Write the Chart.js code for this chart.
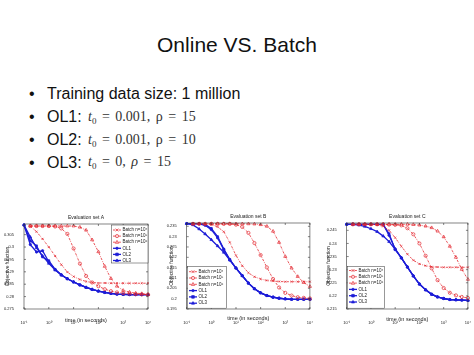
<!DOCTYPE html>
<html><head><meta charset="utf-8">
<script src="https://cdn.jsdelivr.net/npm/chart.js@4.4.1/dist/chart.umd.min.js"></script>
<style>
html,body{margin:0;padding:0;background:#fff;}
body{width:474px;height:355px;position:relative;overflow:hidden;font-family:"Liberation Sans",Arial,sans-serif;color:#111;}
.t{position:absolute;left:0;top:34px;width:474px;text-align:center;font-size:21px;line-height:21px;white-space:nowrap;}
.l{position:absolute;left:47px;font-size:16px;line-height:16px;white-space:nowrap;}
.bl{position:absolute;left:29px;font-size:16px;line-height:16px;}
.m{position:absolute;left:88px;font-family:"Liberation Serif","Times New Roman",serif;font-size:14px;line-height:14px;word-spacing:2px;color:#333;white-space:nowrap;}
.m sub{font-size:9px;vertical-align:-3px;line-height:0;}
canvas{position:absolute;}
</style></head>
<body>
<div class="t">Online VS. Batch</div>
<div class="bl" style="top:86px">•</div><div class="l" style="top:86px">Training data size: 1 million</div>
<div class="bl" style="top:109px">•</div><div class="l" style="top:109px">OL1:</div>
<div class="m" style="top:110px"><i>t</i><sub>0</sub> = 0.001, ρ = 15</div>
<div class="bl" style="top:132px">•</div><div class="l" style="top:132px">OL2:</div>
<div class="m" style="top:132.5px"><i>t</i><sub>0</sub> = 0.001, ρ = 10</div>
<div class="bl" style="top:154.5px">•</div><div class="l" style="top:154.5px">OL3:</div>
<div class="m" style="top:155px"><i>t</i><sub>0</sub> = 0, <i>ρ</i> = 15</div>

<canvas id="cA" width="158" height="124" style="left:0;top:206px"></canvas>
<canvas id="cB" width="158" height="124" style="left:158px;top:206px"></canvas>
<canvas id="cC" width="158" height="124" style="left:316px;top:206px"></canvas>

<script>
// ---------- data ----------
const times = [0.1,0.18,0.32,0.56,1,1.8,3.2,5.6,10,18,32,56,100,180,320,560,1000,1800,3200,5600,10000];
const seriesLabels = ['Batch n=10⁴','Batch n=10⁵','Batch n=10⁶','OL1','OL2','OL3'];
const xTickValues = [0.1,1,10,100,1000,10000];
const xTickLabels = ['10⁻¹','10⁰','10¹','10²','10³','10⁴'];
const chartTitles = ['Evaluation set A','Evaluation set B','Evaluation set C'];
const xTitle = 'time (in seconds)';
const yTitle = 'Objective function';

// Evaluation set A
const aBatch4 = [null,0.3084,0.3062,0.3033,0.3000,0.2964,0.2929,0.2899,0.2881,0.2869,0.2861,0.2857,0.2855,0.2855,0.2854,0.2854,0.2854,0.2854,0.2854,0.2854,0.2854];
const aBatch5 = [null,0.3085,0.3085,0.3085,0.3085,0.3083,0.3075,0.3053,0.2994,0.2933,0.2883,0.2857,0.2842,0.2830,0.2822,0.2817,0.2814,0.2812,0.2810,0.2809,0.2808];
const aBatch6 = [null,0.3085,0.3085,0.3085,0.3085,0.3085,0.3085,0.3085,0.3085,0.3080,0.3068,0.3029,0.2981,0.2922,0.2873,0.2842,0.2825,0.2818,0.2814,0.2812,0.2809];
const aOL1 = [0.3089,0.3010,0.2980,0.2985,0.2940,0.2909,0.2887,0.2872,0.2859,0.2847,0.2837,0.2829,0.2822,0.2817,0.2813,0.2810,0.2809,0.2808,0.2808,0.2808,0.2808];
const aOL2 = [0.3089,0.3025,0.3005,0.2960,0.2945,0.2910,0.2888,0.2872,0.2859,0.2847,0.2837,0.2829,0.2822,0.2817,0.2813,0.2810,0.2809,0.2808,0.2808,0.2808,0.2808];
const aOL3 = [0.3089,0.3040,0.2997,0.2964,0.2934,0.2907,0.2887,0.2872,0.2859,0.2847,0.2837,0.2829,0.2822,0.2817,0.2813,0.2810,0.2809,0.2808,0.2808,0.2808,0.2808];
const aYTicks = [0.275,0.28,0.285,0.29,0.295,0.3,0.305];
const aYLabels = ['0.275','0.28','0.285','0.29','0.295','0.3','0.305'];

// Evaluation set B
const bBatch4 = [null,0.2363,0.2363,0.2362,0.2360,0.2347,0.2324,0.2272,0.2209,0.2159,0.2125,0.2106,0.2095,0.2088,0.2085,0.2083,0.2082,0.2082,0.2082,0.2082,0.2082];
const bBatch5 = [null,0.2362,0.2362,0.2362,0.2362,0.2362,0.2362,0.2362,0.2358,0.2347,0.2318,0.2269,0.2211,0.2151,0.2095,0.2054,0.2028,0.2015,0.2007,0.2004,0.2001];
const bBatch6 = [null,0.2362,0.2362,0.2362,0.2362,0.2362,0.2362,0.2362,0.2362,0.2362,0.2362,0.2361,0.2358,0.2350,0.2326,0.2272,0.2204,0.2148,0.2107,0.2078,0.2059];
const bOL1 = [0.2363,0.2363,0.2362,0.2355,0.2334,0.2294,0.2237,0.2187,0.2148,0.2111,0.2075,0.2048,0.2028,0.2015,0.2007,0.2002,0.1999,0.1997,0.1997,0.1997,0.1997];
const bOL2 = [0.2363,0.2363,0.2362,0.2359,0.2340,0.2300,0.2240,0.2190,0.2148,0.2111,0.2075,0.2048,0.2028,0.2015,0.2007,0.2002,0.1999,0.1997,0.1997,0.1997,0.1997];
const bOL3 = [0.2363,0.2357,0.2337,0.2313,0.2285,0.2255,0.2224,0.2187,0.2148,0.2111,0.2075,0.2048,0.2028,0.2015,0.2007,0.2002,0.1999,0.1997,0.1997,0.1997,0.1997];
const bYTicks = [0.195,0.2,0.205,0.21,0.215,0.22,0.225,0.23,0.235];
const bYLabels = ['0.195','0.2','0.205','0.21','0.215','0.22','0.225','0.23','0.235'];

// Evaluation set C
const cBatch4 = [null,0.2473,0.2473,0.2473,0.2473,0.2471,0.2465,0.2450,0.2422,0.2389,0.2359,0.2336,0.2322,0.2315,0.2311,0.2310,0.2309,0.2309,0.2309,0.2309,0.2309];
const cBatch5 = [null,0.2473,0.2473,0.2473,0.2473,0.2473,0.2473,0.2472,0.2471,0.2469,0.2458,0.2435,0.2400,0.2353,0.2305,0.2260,0.2230,0.2212,0.2202,0.2196,0.2192];
const cBatch6 = [null,0.2473,0.2473,0.2473,0.2473,0.2473,0.2473,0.2473,0.2473,0.2473,0.2473,0.2472,0.2470,0.2466,0.2460,0.2447,0.2425,0.2389,0.2347,0.2301,0.2263];
const cOL1 = [0.2473,0.2473,0.2473,0.2473,0.2473,0.2473,0.2473,0.2431,0.2379,0.2345,0.2310,0.2276,0.2245,0.2223,0.2206,0.2196,0.2190,0.2186,0.2185,0.2184,0.2183];
const cOL2 = [0.2473,0.2473,0.2473,0.2473,0.2473,0.2473,0.2472,0.2437,0.2376,0.2345,0.2310,0.2276,0.2245,0.2223,0.2206,0.2196,0.2190,0.2186,0.2185,0.2184,0.2183];
const cOL3 = [0.2473,0.2473,0.2470,0.2465,0.2456,0.2445,0.2428,0.2407,0.2378,0.2345,0.2310,0.2276,0.2245,0.2223,0.2206,0.2196,0.2190,0.2186,0.2185,0.2184,0.2183];
const cYTicks = [0.215,0.22,0.225,0.23,0.235,0.24,0.245];
const cYLabels = ['0.215','0.22','0.225','0.23','0.235','0.24','0.245'];

// ---------- styles ----------
const FONT = '"Liberation Sans", Arial, sans-serif';
Chart.defaults.font.family = FONT;
Chart.defaults.color = '#222';
const RED = 'rgb(228,40,48)';
const BLUE = 'rgb(28,28,215)';
const RDASH = [2.4,1.2,0.7,1.2];
const seriesStyles = [
  {c:RED, w:0.8, dash:RDASH, ps:'crossRot', r:1.4, fill:false},
  {c:RED, w:0.8, dash:RDASH, ps:'circle', r:1.6, fill:false},
  {c:RED, w:0.8, dash:RDASH, ps:'triangle', r:1.8, fill:false},
  {c:BLUE, w:1.3, dash:[], ps:'circle', r:1.2, fill:true},
  {c:BLUE, w:1.3, dash:[], ps:'rect', r:1.3, fill:true},
  {c:BLUE, w:1.3, dash:[], ps:'triangle', r:1.6, fill:true}
];

function drawMarker(ctx, ps, x, y, r, col, fill){
  ctx.save(); ctx.setLineDash([]); ctx.strokeStyle = col; ctx.fillStyle = col; ctx.lineWidth = 0.7;
  ctx.beginPath();
  if (ps === 'circle') { ctx.arc(x, y, r, 0, Math.PI*2); }
  else if (ps === 'rect') { ctx.rect(x-r, y-r, 2*r, 2*r); }
  else if (ps === 'triangle') { ctx.moveTo(x, y-r); ctx.lineTo(x+r*0.95, y+r*0.6); ctx.lineTo(x-r*0.95, y+r*0.6); ctx.closePath(); }
  else { ctx.moveTo(x-r,y-r); ctx.lineTo(x+r,y+r); ctx.moveTo(x+r,y-r); ctx.lineTo(x-r,y+r); }
  if (fill && ps !== 'crossRot') ctx.fill();
  ctx.stroke(); ctx.restore();
}

const framePlugin = {
  id: 'frame',
  afterDatasetsDraw(chart){
    const {ctx, chartArea:a, scales:{x, y}} = chart;
    ctx.save(); ctx.strokeStyle = '#333'; ctx.lineWidth = 0.6; ctx.setLineDash([]);
    ctx.strokeRect(a.left, a.top, a.right-a.left, a.bottom-a.top);
    ctx.beginPath();
    x.ticks.forEach(t => { const px = x.getPixelForValue(t.value);
      ctx.moveTo(px, a.bottom); ctx.lineTo(px, a.bottom-2); ctx.moveTo(px, a.top); ctx.lineTo(px, a.top+2); });
    y.ticks.forEach(t => { const py = y.getPixelForValue(t.value);
      ctx.moveTo(a.left, py); ctx.lineTo(a.left+2, py); ctx.moveTo(a.right, py); ctx.lineTo(a.right-2, py); });
    ctx.stroke(); ctx.restore();
  }
};

const boxLegend = {
  id: 'boxLegend',
  afterDraw(chart, args, o){
    const ctx = chart.ctx; ctx.save();
    ctx.fillStyle = '#fff'; ctx.fillRect(o.x, o.y, o.w, o.h);
    ctx.strokeStyle = '#333'; ctx.lineWidth = 0.5; ctx.strokeRect(o.x, o.y, o.w, o.h);
    chart.data.datasets.forEach((ds, i) => {
      const y = o.y0 + i*o.dy, st = seriesStyles[i];
      ctx.strokeStyle = st.c; ctx.lineWidth = st.w; ctx.setLineDash(st.dash);
      ctx.beginPath(); ctx.moveTo(o.lx, y); ctx.lineTo(o.lx+o.lw, y); ctx.stroke(); ctx.setLineDash([]);
      drawMarker(ctx, st.ps, o.lx+o.lw/2, y, st.r, st.c, st.fill);
      ctx.fillStyle = '#222'; ctx.font = '4.5px ' + FONT; ctx.textBaseline = 'middle'; ctx.textAlign = 'left';
      ctx.fillText(ds.label, o.lx+o.lw+1.5, y);
    });
    ctx.restore();
  }
};

function buildChart(id, title, series, yMin, yMax, yTicks, yLabels, g){
  const datasets = series.map((vals, i) => {
    const st = seriesStyles[i];
    return {
      label: seriesLabels[i],
      data: times.map((t, k) => ({x: t, y: vals[k]})),
      borderColor: st.c, borderWidth: st.w, borderDash: st.dash,
      pointStyle: st.ps, pointRadius: st.r, pointBorderWidth: 0.7,
      pointBorderColor: st.c, pointBackgroundColor: st.fill ? st.c : 'rgba(0,0,0,0)',
      fill: false, tension: 0, clip: false, spanGaps: false
    };
  });
  // draw blue on top of red? keep original order (red first, blue last)
  return new Chart(document.getElementById(id), {
    type: 'line',
    data: {datasets},
    options: {
      responsive: false, animation: false, devicePixelRatio: 1,
      layout: {padding: {left: 0, right: g.padR, top: 0, bottom: 0}},
      plugins: {
        legend: {display: false}, tooltip: {enabled: false},
        title: {display: true, text: title, fullSize: false, color: '#222',
                font: {size: 5, weight: 'normal'}, padding: {top: g.tpt, bottom: g.tpb}},
        boxLegend: g.legend
      },
      scales: {
        x: {
          type: 'logarithmic', min: 0.1, max: 10000,
          afterBuildTicks: s => { s.ticks = xTickValues.map(v => ({value: v})); },
          afterFit: s => { s.height = g.xh; },
          ticks: {autoSkip: false, maxRotation: 0, padding: 3, font: {size: 4}, color: '#222',
                  callback: (v, i) => xTickLabels[i]},
          grid: {display: false}, border: {display: false},
          title: {display: true, text: xTitle, color: '#222', font: {size: 5.5}, padding: {top: 0, bottom: g.xtp}}
        },
        y: {
          min: yMin, max: yMax,
          afterBuildTicks: s => { s.ticks = yTicks.map(v => ({value: v})); },
          afterFit: s => { s.width = g.yw; },
          ticks: {autoSkip: false, padding: 2, font: {size: 4}, color: '#222',
                  callback: (v, i) => yLabels[i]},
          grid: {display: false}, border: {display: false},
          title: {display: true, text: yTitle, color: '#222', font: {size: 5}, padding: {top: g.ytp, bottom: 0}}
        }
      }
    },
    plugins: [framePlugin, boxLegend]
  });
}

buildChart('cA', chartTitles[0], [aBatch4,aBatch5,aBatch6,aOL1,aOL2,aOL3], 0.275, 0.3093, aYTicks, aYLabels,
  {padR: 10, yw: 24, xh: 21, tpt: 8.3, tpb: 3.7, xtp: 6.7, ytp: 5,
   legend: {x: 111.7, y: 19, w: 36.3, h: 38, y0: 24, dy: 6.1, lx: 113, lw: 8}});
buildChart('cB', chartTitles[1], [bBatch4,bBatch5,bBatch6,bOL1,bOL2,bOL3], 0.195, 0.2366, bYTicks, bYLabels,
  {padR: 6, yw: 28.7, xh: 21, tpt: 7.7, tpb: 3.3, xtp: 8.4, ytp: 10.7,
   legend: {x: 29.7, y: 60.7, w: 39, h: 41.5, y0: 65.7, dy: 6.3, lx: 31, lw: 8}});
buildChart('cC', chartTitles[2], [cBatch4,cBatch5,cBatch6,cOL1,cOL2,cOL3], 0.215, 0.2478, cYTicks, cYLabels,
  {padR: 6, yw: 30.7, xh: 21, tpt: 7.7, tpb: 3.3, xtp: 7.7, ytp: 9.3,
   legend: {x: 31.5, y: 60.7, w: 37, h: 41.5, y0: 64.5, dy: 6.3, lx: 33, lw: 8}});
</script>
</body></html>
